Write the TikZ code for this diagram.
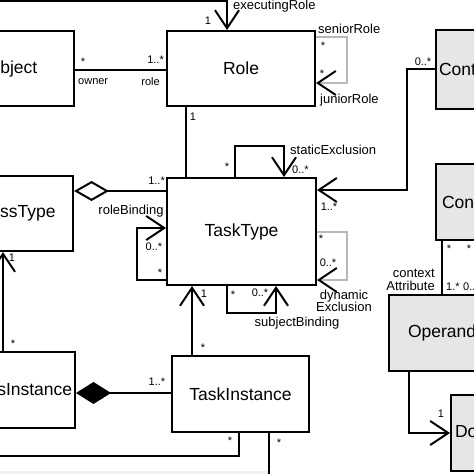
\documentclass[tikz,border=0pt]{standalone}
\usepackage{fontspec}
\setmainfont{Liberation Sans}
\usetikzlibrary{arrows.meta,calc}
\definecolor{ctxgray}{RGB}{230,230,230}
\definecolor{loopgray}{RGB}{185,185,185}
\begin{document}
\begin{tikzpicture}[x=1bp,y=-1bp,
  cls/.style={draw=black, line width=2bp, rectangle, inner sep=0pt, font=\fontsize{17.5bp}{20bp}\selectfont},
  ctx/.style={cls, fill=ctxgray},
  assoc/.style={draw=black, line width=2bp},
  selfloop/.style={draw=loopgray, line width=1.2bp},
  ml/.style={inner sep=0pt, font=\fontsize{11bp}{12bp}\selectfont},
  rn/.style={inner sep=0pt, font=\fontsize{13bp}{12.5bp}\selectfont},
  vbarb/.tip={Straight Barb[length=18bp,width=24bp,color=black,line width'=2bp]},
]
\useasboundingbox (0,0) rectangle (474,474);
\clip (0,0) rectangle (474,474);

\fill[gray!12] (0,471) rectangle (268,476);

% classes
\node[cls, minimum width=124bp, minimum height=75bp] (Object) at (12,68.5) {Object};
\node[cls, minimum width=148bp, minimum height=75bp] (Role) at (241,68.5) {Role};
\node[cls, minimum width=136bp, minimum height=75bp] (ProcessType) at (5,213.5) {ProcessType};
\node[cls, minimum width=149bp, minimum height=107bp] (TaskType) at (241.5,231.5) {TaskType};
\node[cls, minimum width=135bp, minimum height=76bp] (ProcessInstance) at (7.5,390) {ProcessInstance};
\node[cls, minimum width=137bp, minimum height=76bp] (TaskInstance) at (240.5,394) {TaskInstance};
\node[ctx, anchor=north west, minimum height=79bp, inner xsep=3bp] (CC) at (435,29) {ContextConstraint};
\node[ctx, anchor=north west, minimum height=76bp, inner xsep=6bp] (Cond) at (435,163) {Condition};
\node[ctx, anchor=north west, minimum height=76bp, inner xsep=19bp] (Operand) at (388,294) {Operand};
\node[ctx, anchor=north west, minimum height=76bp, inner xsep=4bp] (Do) at (450,394) {DomainObject};

% coordinates for free ends
\coordinate (erL) at (-5,1);
\coordinate (bl) at (-5,456);
\coordinate (bb) at (269,480);

% connectors
\draw[assoc, line width=2.5bp, -{vbarb}] (erL) -| ([xshift=-14bp]Role.north);
\draw[assoc] (Object.east |- 0,70) -- (Role.west |- 0,70);
\draw[selfloop, -{vbarb}] (Role.east |- 0,37) -- (347,37) -- (347,83) -- (Role.east |- 0,83);
\draw[assoc] (Role.south -| 186,0) -- (TaskType.north -| 186,0);
\draw[assoc, -{vbarb}] (TaskType.north -| 235,0) -- (235,146) -- (284,146) -- (TaskType.north -| 284,0);
\draw[assoc, -{vbarb}] (CC.west) -| (407,190) -- (TaskType.east |- 0,190);
\draw[selfloop, -{vbarb}] (TaskType.east |- 0,232) -- (347,232) -- (347,280) -- (TaskType.east |- 0,280);
\draw[assoc, -{vbarb}] (TaskType.south -| 227,0) -- (227,313) -- (276,313) -- (TaskType.south -| 276,0);
\draw[assoc, line width=1.6bp, -{vbarb}] (TaskType.west |- 0,280) -- (137,280) -- (137,228) -- (TaskType.west |- 0,228);
\draw[assoc, {Diamond[open,length=35bp,width=20bp]}-] (ProcessType.east |- 0,191) -- (TaskType.west |- 0,191);
\draw[assoc, -{vbarb}] (ProcessInstance.north -| 3,0) -- (ProcessType.south -| 3,0);
\draw[assoc, {Diamond[length=35bp,width=22bp]}-] (ProcessInstance.east |- 0,393) -- (TaskInstance.west |- 0,393);
\draw[assoc, -{vbarb}] (TaskInstance.north -| 192,0) -- (TaskType.south -| 192,0);
\draw[assoc] (TaskInstance.south -| 239,0) |- (bl);
\draw[assoc] (TaskInstance.south -| 269,0) -- (bb);
\draw[assoc] (Cond.south -| 442,0) -- (Operand.north -| 442,0);
\draw[assoc, -{vbarb}] (Operand.south -| 409,0) |- (Do.west);

% role names
\node[rn, anchor=west] (lexec) at (233,6) {executingRole};
\node[rn, anchor=west] (lsenior) at (318,29) {seniorRole};
\node[rn, anchor=west] (ljunior) at (320,100) {juniorRole};
\node[rn, anchor=west] (lstatic) at (290,150) {staticExclusion};
\node[rn, align=center] (ldyn) at (344,301) {dynamic\\Exclusion};
\node[rn] (lrb) at (131,211) {roleBinding};
\node[rn] (lsb) at (297,323) {subjectBinding};
\node[rn, align=right, anchor=east] (lctx) at (435,280) {context\\Attribute};
\node[ml, anchor=west] (lowner) at (78,82) {owner};
\node[ml, anchor=east] (lrole) at (160,82) {role};

% multiplicities
\node[ml] (m1) at (208,21) {1};
\node[ml] (m2) at (83,62) {*};
\node[ml, anchor=east] (m3) at (164,60) {1..*};
\node[ml] (m4) at (323,46) {*};
\node[ml] (m5) at (322,74) {*};
\node[ml] (m6) at (193,117) {1};
\node[ml] (m7) at (227,167) {*};
\node[ml, anchor=west] (m8) at (292,170) {0..*};
\node[ml, anchor=east] (m9) at (165,181) {1..*};
\node[ml] (m10) at (423,62) {0..*};
\node[ml] (m11) at (329,207) {1..*};
\node[ml] (m12) at (321,239) {*};
\node[ml] (m13) at (328,263) {0..*};
\node[ml] (m14) at (154,247) {0..*};
\node[ml] (m15) at (160,273) {*};
\node[ml] (m16) at (12,258) {1};
\node[ml] (m17) at (13,344) {*};
\node[ml] (m18) at (204,294) {1};
\node[ml] (m19) at (203,348) {*};
\node[ml] (m20) at (233,295) {*};
\node[ml] (m21) at (260,293) {0..*};
\node[ml] (m22) at (157,382) {1..*};
\node[ml] (m23) at (230,441) {*};
\node[ml] (m24) at (279,443) {*};
\node[ml] (m25) at (449,249) {*};
\node[ml] (m26) at (469,249) {*};
\node[ml, anchor=west] (m27) at (446,287) {1.*};
\node[ml, anchor=west] (m28) at (463,287) {0..*};
\node[ml] (m29) at (441,414) {1};
\end{tikzpicture}
\end{document}
